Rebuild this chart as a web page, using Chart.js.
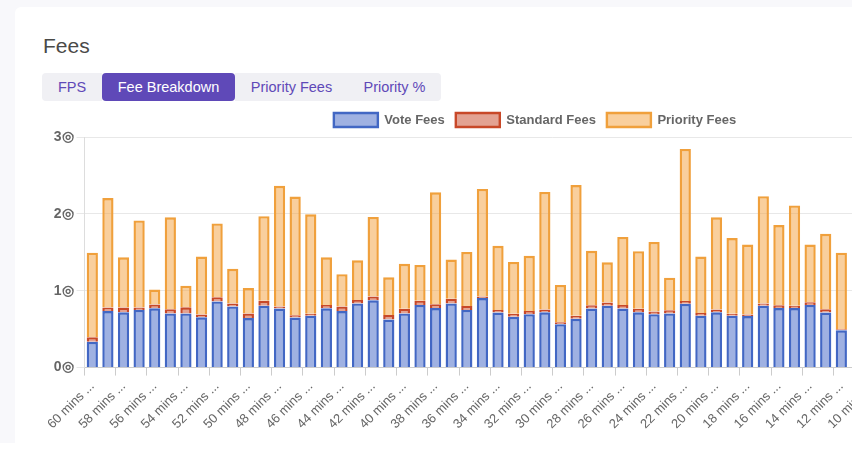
<!DOCTYPE html>
<html><head><meta charset="utf-8">
<script src="https://cdn.jsdelivr.net/npm/chart.js@4"></script>
<style>
html,body{margin:0;padding:0;width:852px;height:452px;overflow:hidden;background:#fff;font-family:"Liberation Sans",Arial,sans-serif}
#bg{position:absolute;left:0;top:0;width:852px;height:443px;background:#f8f8fb}
#card{position:absolute;left:15px;top:7px;width:900px;height:436px;background:#fff;border-radius:6px 0 0 0}
#title{position:absolute;left:43px;top:33px;font-size:21px;line-height:26px;color:#4a4a48}
.tab{position:absolute;top:73px;height:28px;line-height:28px;text-align:center;font-size:14.5px;color:#5f49b8;background:#f0f0f4}
#t1{left:42px;width:60px;border-radius:4px 0 0 4px}
#t2{left:102px;width:133px;background:#5f49b8;color:#fff;border-radius:4px}
#t3{left:235px;width:113px}
#t4{left:348px;width:93px;border-radius:0 4px 4px 0}
#c{position:absolute;left:43px;top:102px}
</style></head><body>
<div id="bg"></div><div id="card"></div>
<div id="title">Fees</div>
<div class="tab" id="t1">FPS</div><div class="tab" id="t2">Fee Breakdown</div><div class="tab" id="t3">Priority Fees</div><div class="tab" id="t4">Priority %</div>
<canvas id="c" width="984" height="333" style="width:984px;height:333px"></canvas>
<script>
const minutes=[60,59,58,57,56,55,54,53,52,51,50,49,48,47,46,45,44,43,42,41,40,39,38,37,36,35,34,33,32,31,30,29,28,27,26,25,24,23,22,21,20,19,18,17,16,15,14,13,12,11,10,9,8,7,6,5,4,3,2,1];
const categories=minutes.map(m=>m+" mins ...");
const voteFees=[.335,.735,.72,.75,.772,.705,.705,.655,.86,.795,.645,.805,.768,.65,.675,.772,.735,.835,.875,.625,.705,.815,.775,.835,.75,.905,.715,.66,.695,.72,.565,.635,.768,.805,.768,.72,.695,.705,.83,.675,.72,.675,.67,.805,.775,.775,.815,.715,.485];
const standardFees=[.06,.045,.06,.03,.048,.055,.08,.035,.055,.04,.06,.065,.027,.03,.025,.043,.06,.045,.05,.06,.06,.055,.05,.06,.05,.02,.035,.04,.04,.035,.025,.04,.044,.04,.047,.045,.035,.04,.035,.035,.035,.025,.02,.03,.035,.03,.035,.045,.013];
const priorityFees=[1.10,1.425,.655,1.135,.195,1.195,.28,.755,.96,.45,.33,1.10,1.57,1.545,1.295,.62,.42,.515,1.035,.49,.585,.465,1.455,.51,.705,1.40,.835,.675,.72,1.53,.485,1.70,.708,.525,.885,.75,.905,.425,1.98,.735,1.20,.985,.91,1.395,1.045,1.305,.75,.98,.997];
const font={family:'"Liberation Sans",Arial,sans-serif',size:13,weight:'bold'};
const grey='#666';
new Chart(document.getElementById('c'),{
 type:'bar',
 data:{labels:categories,datasets:[
  {label:'Vote Fees',data:voteFees,backgroundColor:'rgba(63,100,198,0.5)',borderColor:'rgb(66,103,196)',borderWidth:2.4},
  {label:'Standard Fees',data:standardFees,backgroundColor:'rgba(200,70,38,0.5)',borderColor:'rgb(200,72,40)',borderWidth:2.4},
  {label:'Priority Fees',data:priorityFees,backgroundColor:'rgba(243,160,60,0.5)',borderColor:'rgb(240,160,60)',borderWidth:2.4}
 ]},
 options:{responsive:false,animation:false,
  plugins:{legend:{labels:{color:grey,font:font,boxWidth:44,boxHeight:14,padding:11}},tooltip:{enabled:false}},
  scales:{
   x:{stacked:true,
      grid:{drawOnChartArea:false,color:'#ccc',tickColor:c=>c.index%2?'transparent':'#ccc'},
      border:{color:'#ccc'},
      ticks:{color:grey,font:{...font,weight:'normal',size:13},maxRotation:45,minRotation:45,autoSkip:false,
        callback(v,i){return i%2?'':this.getLabelForValue(v)}}},
   y:{stacked:true,min:0,max:3,grid:{color:'#e8e8e8'},border:{color:'#ddd'},
      afterFit(s){s.width=41.5},
      ticks:{color:grey,font:{...font,size:14},stepSize:1,callback:v=>v+'◎'}}
  }}
});
</script>
</body></html>
